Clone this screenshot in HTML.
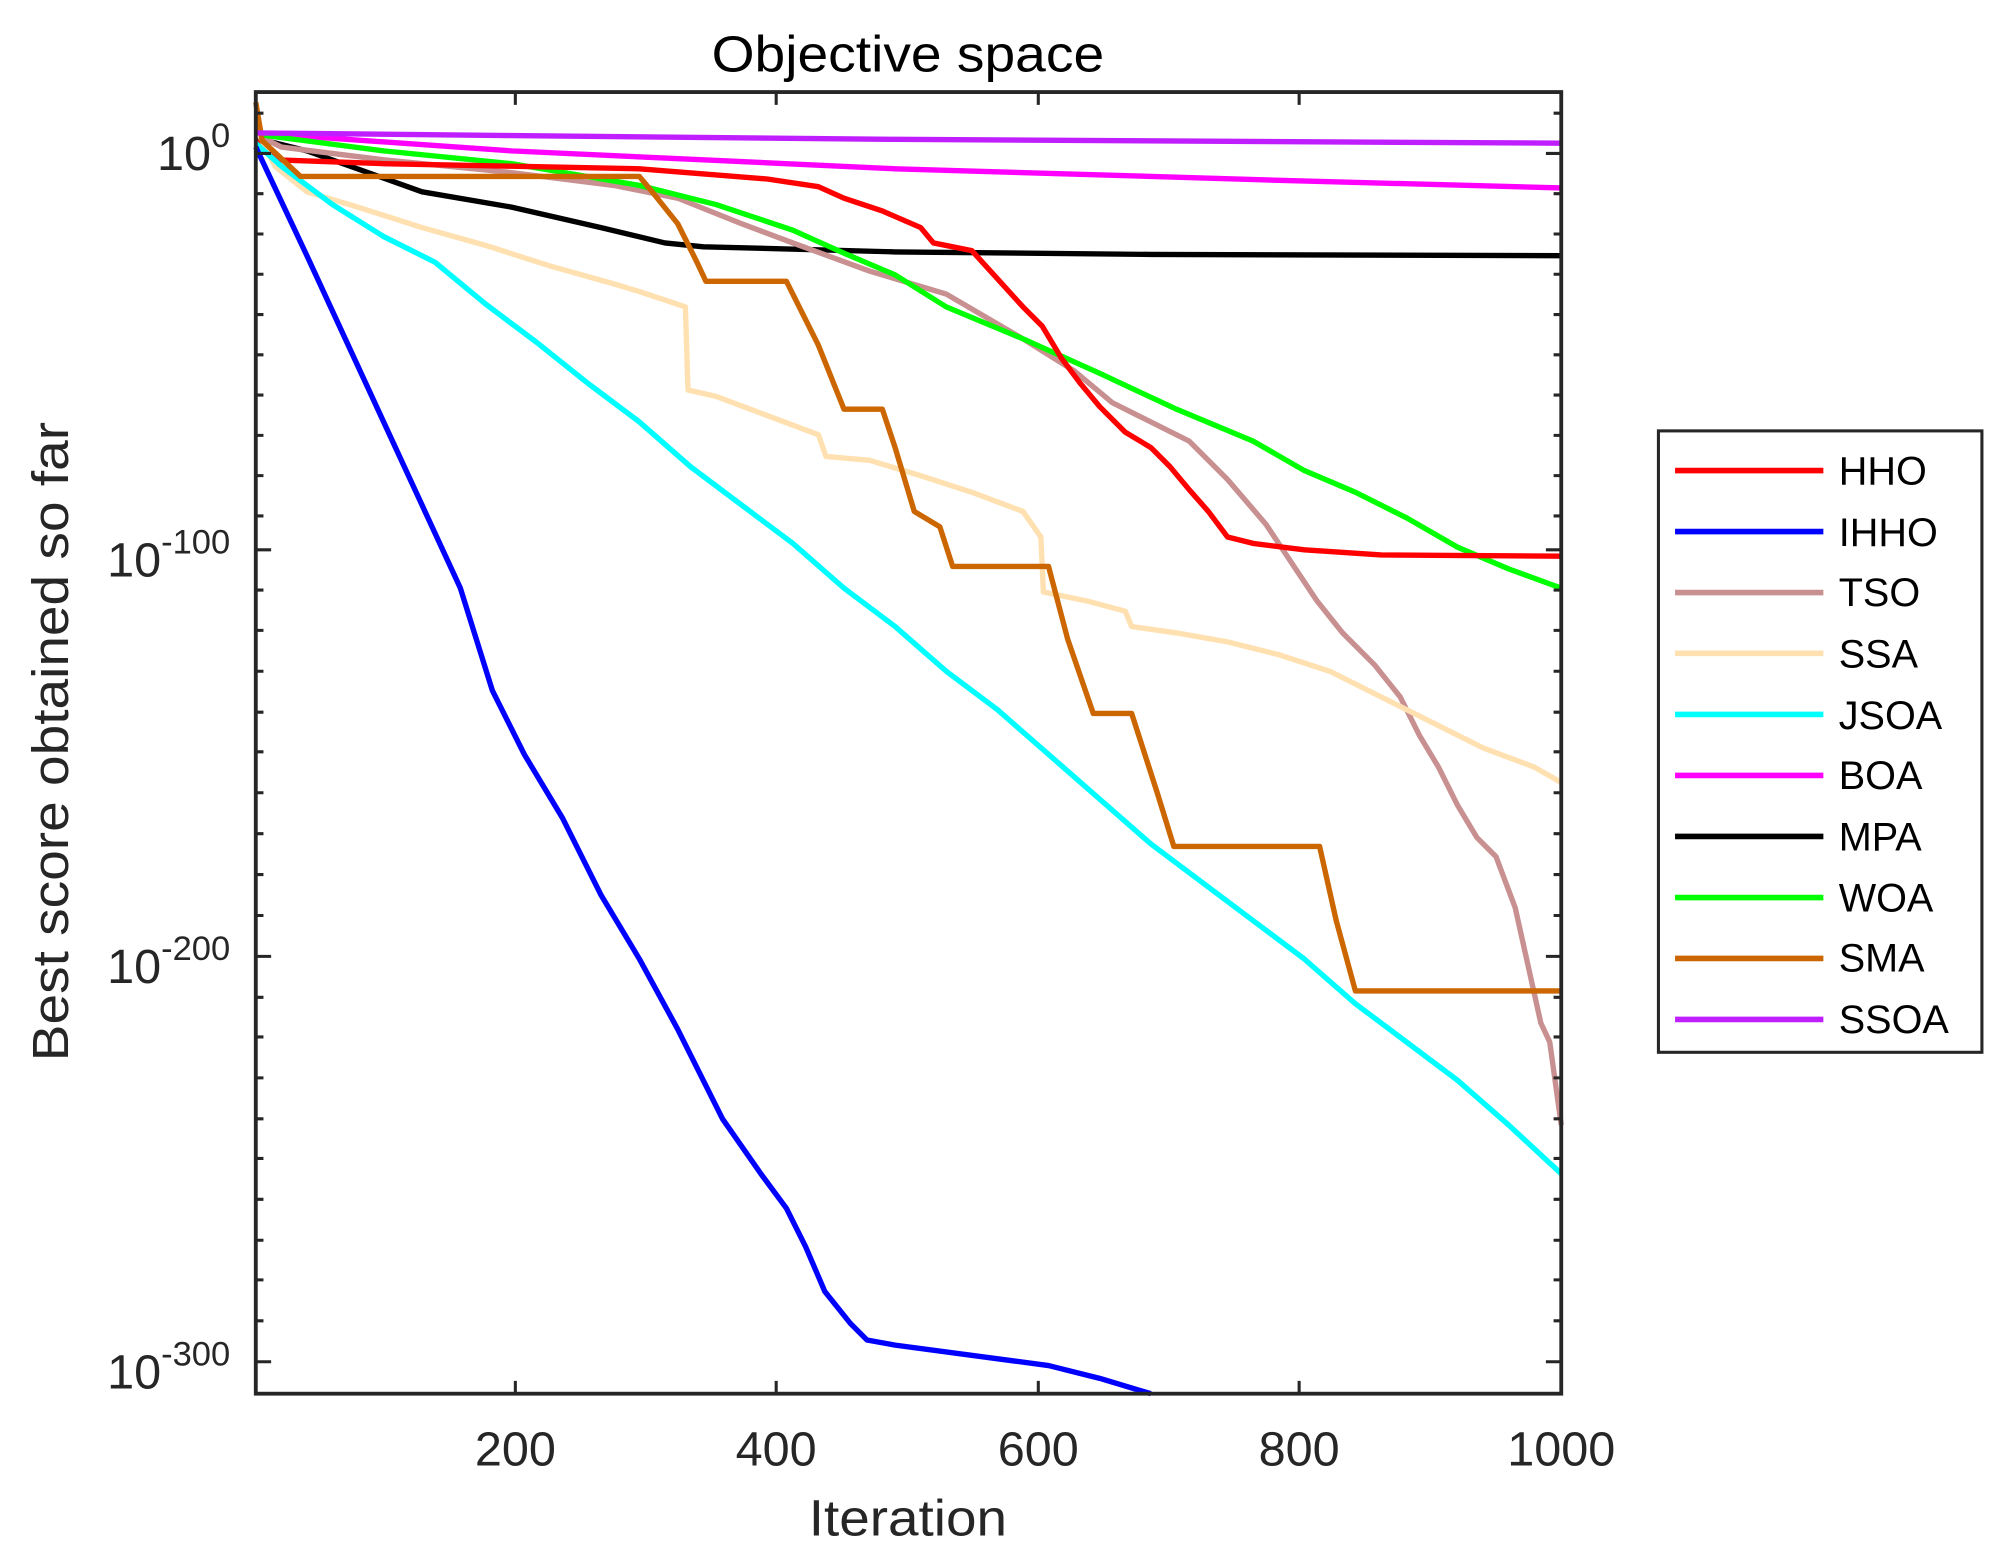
<!DOCTYPE html>
<html><head><meta charset="utf-8"><style>html,body{margin:0;padding:0;background:#fff}svg{display:block}</style></head>
<body>
<svg width="2005" height="1564" viewBox="0 0 1568 1223.2" xmlns="http://www.w3.org/2000/svg" font-family="Liberation Sans, Arial, sans-serif" fill="#000">
<rect x="0" y="0" width="1568" height="1224" fill="#fff"/>
<g fill="none" stroke-width="4.2" stroke-linejoin="round">
<polyline stroke="#FF00FF" points="200,104 400,118 700,132 1000,141 1221,147"/>
<polyline stroke="#000" points="200,108 240,118 330,150 400,162 470,178 520,190 550,193 700,197 900,199 1221,200"/>
<polyline stroke="#C89090" points="200,105 220,115 300,125 400,135 480,145 530,155 580,175 620,190 680,212 740,230 800,265 840,290 870,315 890,325 930,345 960,375 990,410 1010,440 1030,470 1050,495 1075,520 1095,545 1110,575 1125,600 1140,630 1155,655 1170,670 1185,710 1195,755 1205,800 1212,815 1221,880"/>
<polyline stroke="#00FF00" points="200,105 300,118 400,128 500,145 560,160 620,180 660,198 700,215 740,240 800,265 860,292 920,320 980,345 1020,368 1060,385 1100,405 1140,428 1180,445 1221,460"/>
<polyline stroke="#FF0000" points="200,110 215,125 300,128 400,130 500,132 600,140 640,146 660,155 690,165 720,178 730,190 760,196 780,218 800,240 815,255 830,280 845,300 860,318 880,338 900,350 915,365 930,383 945,400 960,420 980,425 1020,430 1080,434 1221,435"/>
<polyline stroke="#FFE0B0" points="200,100 215,130 240,150 280,162 330,178 380,192 430,208 480,222 500,228 530,238 536,240 538,305 560,310 600,325 640,340 646,357 680,360 720,372 760,385 800,400 814,420 816,463 850,470 880,478 885,490 920,495 960,502 1000,512 1040,525 1080,545 1120,565 1160,585 1200,600 1221,612"/>
<polyline stroke="#00FFFF" points="200,112 220,130 260,160 300,185 340,205 380,238 420,268 460,300 500,330 540,365 580,395 620,425 660,460 700,490 740,525 780,555 820,590 860,625 900,660 940,690 980,720 1020,750 1060,785 1100,815 1140,845 1180,880 1221,918"/>
<polyline stroke="#CC6600" points="200,80 205,110 235,138 300,138 500,138 510,150 530,175 545,205 552,220 615,220 640,270 660,320 690,320 700,350 715,400 735,412 745,443 820,443 835,500 855,558 885,558 905,620 918,662 1032,662 1045,720 1060,775 1221,775"/>
<polyline stroke="#0000FF" points="200,115 240,200 270,265 300,330 330,395 360,460 385,540 410,590 440,640 470,700 500,750 530,805 550,845 565,875 595,918 615,945 630,975 645,1010 665,1035 678,1048 700,1052 820,1068 860,1078 900,1090"/>
<polyline stroke="#BF1FFF" points="200,104 400,106 700,109 1221,112"/>
</g>
<g stroke="#262626" stroke-width="2.4">
<path d="M403,1090v-10M607,1090v-10M812,1090v-10M1016,1090v-10M403,72v10M607,72v10M812,72v10M1016,72v10"/>
<path d="M200,120h12M200,430h12M200,748h12M200,1065h12M1221,120h-12M1221,430h-12M1221,748h-12M1221,1065h-12"/>
<path d="M200,88.5h6M200,151.5h6M200,183h6M200,214.5h6M200,246h6M200,277.5h6M200,309h6M200,340.5h6M200,372h6M200,403.5h6M200,461.5h6M200,493h6M200,525h6M200,557h6M200,588h6M200,620h6M200,652h6M200,684h6M200,716h6M200,780h6M200,811h6M200,843h6M200,875h6M200,906h6M200,938h6M200,970h6M200,1001h6M200,1033h6"/>
<path d="M1221,88.5h-6M1221,151.5h-6M1221,183h-6M1221,214.5h-6M1221,246h-6M1221,277.5h-6M1221,309h-6M1221,340.5h-6M1221,372h-6M1221,403.5h-6M1221,461.5h-6M1221,493h-6M1221,525h-6M1221,557h-6M1221,588h-6M1221,620h-6M1221,652h-6M1221,684h-6M1221,716h-6M1221,780h-6M1221,811h-6M1221,843h-6M1221,875h-6M1221,906h-6M1221,938h-6M1221,970h-6M1221,1001h-6M1221,1033h-6"/>
</g>
<rect x="200" y="72" width="1021" height="1018" fill="none" stroke="#262626" stroke-width="3"/>
<g fill="#262626" font-size="38" text-anchor="middle">
<text x="403" y="1146">200</text><text x="607" y="1146">400</text><text x="812" y="1146">600</text><text x="1016" y="1146">800</text><text x="1221" y="1146">1000</text>
</g>
<g fill="#262626" font-size="38" text-anchor="end">
<text x="180" y="133">10<tspan dy="-18" font-size="27">0</tspan></text>
<text x="180" y="451">10<tspan dy="-18" font-size="27">-100</tspan></text>
<text x="180" y="769">10<tspan dy="-18" font-size="27">-200</tspan></text>
<text x="180" y="1086">10<tspan dy="-18" font-size="27">-300</tspan></text>
</g>
<text x="710" y="56" font-size="40" text-anchor="middle" textLength="307" lengthAdjust="spacingAndGlyphs">Objective space</text>
<text x="710" y="1201" font-size="40" text-anchor="middle" textLength="155" lengthAdjust="spacingAndGlyphs" fill="#262626">Iteration</text>
<text transform="translate(53,580) rotate(-90)" font-size="40" text-anchor="middle" textLength="500" lengthAdjust="spacingAndGlyphs" fill="#262626">Best score obtained so far</text>
<rect x="1297" y="337" width="253" height="486" fill="#fff" stroke="#262626" stroke-width="2.4"/>
<g stroke-width="4.4">
<line x1="1310" x2="1426" y1="368" y2="368" stroke="#FF0000"/>
<line x1="1310" x2="1426" y1="415.7" y2="415.7" stroke="#0000FF"/>
<line x1="1310" x2="1426" y1="463.4" y2="463.4" stroke="#C89090"/>
<line x1="1310" x2="1426" y1="511" y2="511" stroke="#FFE0B0"/>
<line x1="1310" x2="1426" y1="558.8" y2="558.8" stroke="#00FFFF"/>
<line x1="1310" x2="1426" y1="606.5" y2="606.5" stroke="#FF00FF"/>
<line x1="1310" x2="1426" y1="654.2" y2="654.2" stroke="#000"/>
<line x1="1310" x2="1426" y1="702" y2="702" stroke="#00FF00"/>
<line x1="1310" x2="1426" y1="749.6" y2="749.6" stroke="#CC6600"/>
<line x1="1310" x2="1426" y1="797.3" y2="797.3" stroke="#BF1FFF"/>
</g>
<g font-size="31">
<text x="1438" y="379">HHO</text>
<text x="1438" y="427">IHHO</text>
<text x="1438" y="474">TSO</text>
<text x="1438" y="522">SSA</text>
<text x="1438" y="570">JSOA</text>
<text x="1438" y="617">BOA</text>
<text x="1438" y="665">MPA</text>
<text x="1438" y="713">WOA</text>
<text x="1438" y="760">SMA</text>
<text x="1438" y="808">SSOA</text>
</g>
</svg>
</body></html>
